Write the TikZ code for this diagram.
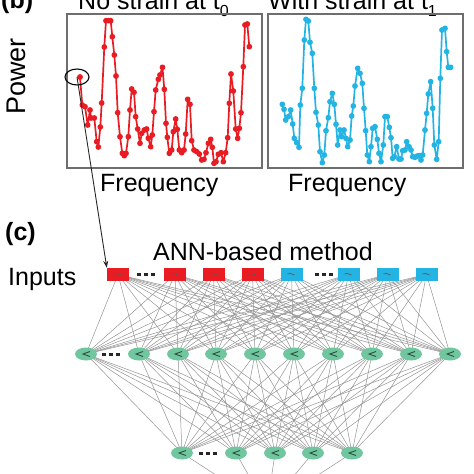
\documentclass[tikz,border=0pt]{standalone}
\usepackage{fontspec}
\setmainfont{Liberation Sans}
\usetikzlibrary{shapes.geometric,arrows.meta}
\pgfdeclarelayer{bg}
\pgfsetlayers{bg,main}
\definecolor{pred}{RGB}{232,28,34}
\definecolor{pblue}{RGB}{36,180,228}
\definecolor{ngreen}{RGB}{112,198,158}
\definecolor{frame}{RGB}{110,110,110}
\tikzset{
  lab/.style={font=\fontsize{25}{30}\selectfont, inner sep=0pt},
  bold lab/.style={font=\fontsize{25}{30}\selectfont\bfseries, inner sep=0pt},
  plotframe/.style={draw=frame, line width=1.2pt},
  redline/.style={pred, line width=1.7pt, line join=round},
  blueline/.style={pblue, line width=1.7pt, line join=round},
  inbox/.style={rectangle, minimum width=22pt, minimum height=13pt, inner sep=0pt,
    path picture={\draw[black!65, line width=0.7pt]
      ([xshift=-4pt,yshift=0.5pt]path picture bounding box.center) -- ++(3pt,0.5pt) -- ++(4pt,-1.5pt);}},
  redbox/.style={inbox, fill=pred},
  bluebox/.style={inbox, fill=pblue},
  neuron/.style={ellipse, fill=ngreen, minimum width=22pt, minimum height=13pt, inner sep=0pt,
    path picture={\draw[black!60!ngreen, line width=0.9pt]
      ([xshift=4pt,yshift=2.5pt]path picture bounding box.center) -- ++(-7pt,-2.5pt) -- ++(7pt,-2.5pt);}},
  wire/.style={black!42, line width=0.5pt},
  ellip/.style={black!85, line width=3pt, dash pattern=on 4pt off 3pt},
}
\begin{document}
\begin{tikzpicture}[x=1pt,y=-1pt]
\useasboundingbox (0,0) rectangle (474,474);
\clip (0,0) rectangle (474,474);

% ---------- panel (b) ----------
\node[bold lab, anchor=base west] (blab) at (1,8) {(b)};
\node[lab, anchor=base west] (t0) at (78,9) {No strain at t\raisebox{-0.28em}{\fontsize{16}{16}\selectfont 0}};
\node[lab, anchor=base west] (t1) at (268,9) {With strain at t\raisebox{-0.28em}{\fontsize{16}{16}\selectfont 1}};
\node[font=\fontsize{27}{30}\selectfont, inner sep=0pt, rotate=90, anchor=base west] (power) at (25,115) {Power};

\draw[plotframe] (67,14) rectangle (262,168);
\draw[plotframe] (268,14) rectangle (463,168);

\draw[redline] plot[mark=*, mark size=2pt, mark options={fill=pred, draw=pred}] coordinates {
(80,77)(82.3,105)(85,106.7)(87.7,125)(90,110)(91,118)(94.3,118)(96.7,141.7)(98.3,147)(100.3,127)(101.7,103)(104.3,47)(106,20.7)(108.3,20.7)(110.7,20.7)(112.3,36.7)(114.3,55)(116,76)(117.7,112.7)(120,136.7)(122.3,153.3)(124.3,155.7)(126,153.3)(128.3,136.7)(130,110)(131.7,89)(134,92.3)(135.7,116.7)(137.7,129)(140,143.3)(141.7,133.3)(144.3,130)(146.7,129)(148.3,138.3)(150.7,146.7)(152.3,135)(154,111.7)(155.7,90)(158.3,79.3)(160,75)(162.5,67.3)(164.3,89.3)(166,123.3)(167.3,137.3)(169.3,153.3)(171.7,150)(173.3,131.7)(175.7,119)(177.3,129.3)(179.3,150)(181.7,152.7)(184,150)(185.7,134)(187.7,99.3)(190,104.3)(191.7,140.7)(194,150)(196.7,151.7)(199.3,154)(201.7,160)(204,159.3)(206,152.7)(208.3,143.3)(210.7,139.3)(212.3,147.3)(214,163.3)(216,161.7)(218.3,154.3)(221,152.7)(223.3,161.7)(225.7,152.7)(227.7,137.7)(229.3,103.3)(231,74)(233.3,91)(235.7,129)(237.7,138.3)(239.3,128.3)(241,112.7)(243.3,66.7)(245,25)(247.3,24)(249.3,46.7)};

\draw[blueline] plot[mark=*, mark size=2pt, mark options={fill=pblue, draw=pblue}] coordinates {
(282.3,104.3)(284,109.3)(285.7,120)(288.3,116.7)(290.7,110)(292.7,124)(294.3,138.3)(296.7,142.7)(299,147.3)(300.3,105)(302.3,88.3)(304.3,40)(306,19.3)(308.3,21)(310,42.3)(312.3,53.3)(314.3,88.3)(316,112.3)(318.3,125)(320,151.7)(322.3,162.7)(324.3,155)(326,130.7)(328.3,117.7)(330,101.7)(332.3,93.3)(334.3,104.3)(336,124.3)(337.7,145)(340,130)(341.7,136.7)(344,130)(346,138.3)(347.7,146.7)(350,140)(351.7,116)(353.3,106)(355,86)(357.7,68.3)(360,73.3)(362.3,83.3)(364,108.3)(365.7,130.7)(367.3,155)(369.3,161.7)(371,146.7)(372.7,128.3)(375,126.7)(377.3,139.3)(379,153.3)(381,161.7)(383.3,145)(385,116.7)(387.3,116.7)(389.3,127.3)(391,137.7)(392.7,158.3)(394.3,156.7)(396.7,146.7)(399,159)(401,159)(402.7,150.7)(405,150)(406.7,141.7)(409,146.7)(411,150)(412.7,156.7)(415,157.3)(417.3,156)(419.3,155.7)(421,160)(422.7,155)(425,130)(426.7,113.3)(428.3,94)(430.7,81.7)(432.7,108.3)(434.3,145)(436.7,159.3)(438.7,141.7)(440.3,78.3)(442,30)(445,28.3)(446.7,51.7)(448.3,67.3)(450.7,67.3)};

\node[lab, anchor=base west] (f0) at (100,191.5) {Frequency};
\node[lab, anchor=base west] (f1) at (288,191.5) {Frequency};

\node[ellipse, draw=black, line width=1.1pt, minimum width=24pt, minimum height=16pt, inner sep=0pt] (circ) at (77,77) {};

% ---------- panel (c) ----------
\node[bold lab, anchor=base west] (clab) at (5,240) {(c)};
\node[lab, anchor=base west] (ann) at (153,260.5) {ANN-based method};
\node[lab, anchor=base west] (inp) at (8,285) {Inputs};

\foreach \x [count=\i] in {118,175,213.5,252.5} \node[redbox] (i\i) at (\x,274.5) {};
\foreach \x [count=\i from 5] in {291.5,348.5,387.5,426.5} \node[bluebox] (i\i) at (\x,274.5) {};

\foreach \x [count=\i] in {86,139,178,216,255,294,333,372,411,450} \node[neuron] (h\i) at (\x,354) {};
\foreach \x [count=\i] in {182,236,275,313,352} \node[neuron] (g\i) at (\x,453) {};
\coordinate (out) at (267,508);

\coordinate (d1a) at (137,274.7); \coordinate (d1b) at (155,274.7);
\coordinate (d2a) at (315,274.7); \coordinate (d2b) at (333,274.7);
\coordinate (d3a) at (102,354); \coordinate (d3b) at (120,354);
\coordinate (d4a) at (199,453); \coordinate (d4b) at (217,453);
\draw[ellip] (d1a) -- (d1b);
\draw[ellip] (d2a) -- (d2b);
\draw[ellip] (d3a) -- (d3b);
\draw[ellip] (d4a) -- (d4b);

\begin{pgfonlayer}{bg}
  \foreach \i in {1,...,8} \foreach \j in {1,...,10} \draw[wire] (i\i.center) -- (h\j.center);
  \foreach \i in {1,...,10} \foreach \j in {1,...,5} \draw[wire] (h\i.center) -- (g\j.center);
  \foreach \j in {1,...,5} \draw[wire] (g\j.center) -- (out);
\end{pgfonlayer}

\draw[black!85, line width=0.9pt, -{Stealth[length=7pt,width=5pt]}] (circ.center) -- (i1.north west);
\end{tikzpicture}
\end{document}
